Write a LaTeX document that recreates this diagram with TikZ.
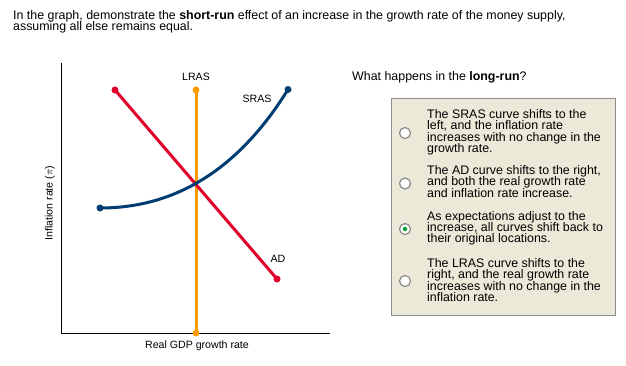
\documentclass[tikz,border=0pt]{standalone}
\usepackage{fontspec}
\setmainfont{Liberation Sans}
\definecolor{adred}{HTML}{E0002A}
\definecolor{lrasorange}{HTML}{FF9A00}
\definecolor{srasblue}{HTML}{003D73}
\definecolor{boxfill}{HTML}{ECE9D8}
\definecolor{boxline}{HTML}{8C8C8C}
\definecolor{radioring}{HTML}{8A8A8A}
\definecolor{radiogreen}{HTML}{00A032}
\newcommand\mytextfont{\fontsize{12.4}{11.4}\selectfont\lineskiplimit -20pt\relax}
\tikzset{
  txt/.style={font=\mytextfont, inner sep=0pt},
  lbl/.style={font=\fontsize{10.6}{12}\selectfont, inner sep=0pt},
  curve/.style={line width=3pt},
  dot/.style={circle, fill=#1, inner sep=0pt, minimum size=7pt},
  axis/.style={line width=1pt, black},
  radio/.style={circle, draw=radioring, line width=1.2pt, fill=white, inner sep=0pt, minimum size=11pt},
  pick/.style={circle, fill=radiogreen, inner sep=0pt, minimum size=4.5pt},
  choice/.style={txt, anchor=base west, align=left},
}
\begin{document}
\begin{tikzpicture}[x=1pt,y=-1pt]
\useasboundingbox[fill=white] (0,0) rectangle (626,365);
% header
\node[txt, anchor=base west] (h1) at (13,19) {In the graph, demonstrate the \textbf{short-run} effect of an increase in the growth rate of the money supply,};
\node[txt, anchor=base west] (h2) at (13,30) {assuming all else remains equal.};
% axes
\coordinate (ytop) at (61,63);
\coordinate (org) at (61,333);
\coordinate (xend) at (330,333);
\draw[axis] (ytop) -- (org) -- (xend);
\node[lbl, rotate=90] (ylab) at (50,203) {Inflation rate ($\pi$)};
\node[lbl] (xlab) at (197,346) {Real GDP growth rate};
% curve end points
\coordinate (lr1) at (196,90);
\coordinate (lr2) at (196,333);
\coordinate (ad1) at (115,90);
\coordinate (ad2) at (277,279);
\coordinate (sr1) at (100,208);
\coordinate (sr2) at (288,89.5);
\draw[curve, lrasorange] (lr1) -- (lr2);
\draw[curve, adred] (ad1) -- (ad2);
\draw[curve, srasblue] (sr1) .. controls (170,208) and (235,175) .. (sr2);
\node[dot=lrasorange] (lr1d) at (lr1) {};
\node[dot=lrasorange] (lr2d) at (lr2) {};
\node[dot=adred] (ad1d) at (ad1) {};
\node[dot=adred] (ad2d) at (ad2) {};
\node[dot=srasblue] (sr1d) at (sr1) {};
\node[dot=srasblue] (sr2d) at (sr2) {};
\node[lbl] (lraslab) at (196,77) {LRAS};
\node[lbl] (sraslab) at (257,99) {SRAS};
\node[lbl] (adlab) at (278,259) {AD};
% right panel
\node[txt, anchor=base west] (q) at (352,80) {What happens in the \textbf{long-run}?};
\node[draw=boxline, line width=1.3pt, fill=boxfill, minimum width=224pt, minimum height=217pt, anchor=north west, inner sep=0pt] (box) at (390.5,97.5) {};
\node[radio] (r1) at (405,133) {};
\node[radio] (r2) at (405,183.5) {};
\node[radio] (r3) at (405,229) {};
\node[pick] (r3p) at (r3) {};
\node[radio] (r4) at (405,281) {};
\node[choice] (c1) at (427,152.7) {The SRAS curve shifts to the\\left, and the inflation rate\\increases with no change in the\\growth rate.};
\node[choice] (c2) at (427,197.3) {The AD curve shifts to the right,\\and both the real growth rate\\and inflation rate increase.};
\node[choice] (c3) at (427,242.8) {As expectations adjust to the\\increase, all curves shift back to\\their original locations.};
\node[choice] (c4) at (427,301.5) {The LRAS curve shifts to the\\right, and the real growth rate\\increases with no change in the\\inflation rate.};
\end{tikzpicture}
\end{document}
